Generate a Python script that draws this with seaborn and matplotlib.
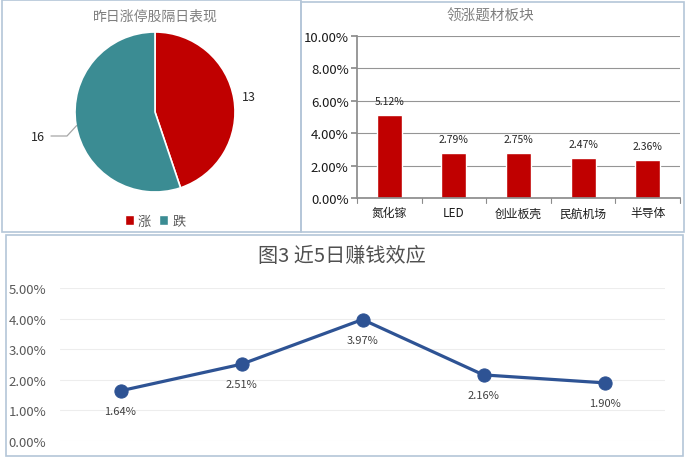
import numpy as np
import pandas as pd
import matplotlib
matplotlib.use("Agg")
import matplotlib.pyplot as plt
from matplotlib.patches import Rectangle, Patch
from matplotlib.ticker import FuncFormatter, MultipleLocator
import seaborn as sns

# ---- data ----
pie_labels = ["涨", "跌"]
pie_values = [13, 16]

bar_cats = ["氮化镓", "LED", "创业板壳", "民航机场", "半导体"]
bar_values = [0.0512, 0.0279, 0.0275, 0.0247, 0.0236]

line_days = [1, 2, 3, 4, 5]
line_values = [0.0164, 0.0251, 0.0397, 0.0216, 0.0190]

pie_title = "昨日涨停股隔日表现"
bar_title = "领涨题材板块"
line_title = "图3 近5日赚钱效应"

RED = "#C00000"
TEAL = "#3B8C93"
BLUE = "#2E5394"
BORDER = "#B4C6D8"

sns.set_theme(style="white")
plt.rcParams['font.family'] = ['Noto Sans CJK SC', 'DejaVu Sans']

W, H = 688, 460
fig = plt.figure(figsize=(W / 100, H / 100), dpi=100)
fig.patch.set_facecolor("white")

def rect(x0, y0, x1, y1):
    return [x0 / W, 1 - y1 / H, (x1 - x0) / W, (y1 - y0) / H]

# panel borders
for (x0, y0, x1, y1) in [(2, 1, 301, 233), (301, 3, 684, 233), (6, 236, 683, 457)]:
    fig.patches.append(Rectangle((x0 / W, 1 - y1 / H), (x1 - x0) / W, (y1 - y0) / H,
                                 transform=fig.transFigure, fill=False,
                                 edgecolor=BORDER, linewidth=1.2))

# ---- pie ----
axp = fig.add_axes(rect(75, 33, 235, 193))
wedges, _ = axp.pie(pie_values, colors=[RED, TEAL], startangle=90, counterclock=False,
                    wedgeprops=dict(edgecolor="white", linewidth=1.2))
axp.set_xlim(-1, 1)
axp.set_ylim(-1, 1)
axp.set_aspect("auto")
axp.text(1.18, 0.19, str(pie_values[0]), ha="center", va="center", fontsize=9, color="#262626")
axp.text(-1.46, -0.31, str(pie_values[1]), ha="center", va="center", fontsize=9, color="#262626")
axp.plot([-1.3, -1.1, -0.98], [-0.30, -0.30, -0.17], color="#A6A6A6", lw=0.9, clip_on=False)
fig.text(155 / W, 1 - 17 / H, pie_title, ha="center", va="center", fontsize=10, color="#7F7F7F")
handles = [Patch(facecolor=RED, label=pie_labels[0]), Patch(facecolor=TEAL, label=pie_labels[1])]
fig.legend(handles=handles, loc="center", bbox_to_anchor=(155 / W, 1 - 222 / H), ncol=2,
           frameon=False, fontsize=9.5, handlelength=0.7, handleheight=0.7, handletextpad=0.3,
           columnspacing=0.6, labelcolor="#595959")

# ---- bar ----
axb = fig.add_axes(rect(357, 37, 680, 199))
df_bar = pd.DataFrame({"cat": bar_cats, "val": bar_values})
sns.barplot(data=df_bar, x="cat", y="val", ax=axb, color=RED, saturation=1, width=0.39)
axb.set_ylim(0, 0.10)
axb.yaxis.set_major_locator(MultipleLocator(0.02))
axb.yaxis.set_major_formatter(FuncFormatter(lambda v, p: f"{v*100:.2f}%"))
axb.grid(axis="y", color="#959595", linewidth=0.8)
axb.set_axisbelow(True)
axb.set_xlabel("")
axb.set_ylabel("")
axb.set_xlim(-0.5, 4.5)
for s in ["top", "right"]:
    axb.spines[s].set_visible(False)
axb.spines["left"].set_color("#8C8C8C")
axb.spines["bottom"].set_color("#8C8C8C")
axb.tick_params(axis="y", labelsize=9.5, labelcolor="#1A1A1A", length=4, color="#8C8C8C",
                left=True, direction="out", pad=2)
axb.tick_params(axis="x", labelsize=8.5, labelcolor="#1A1A1A", length=0, pad=6)
for i, v in enumerate(bar_values):
    axb.annotate(f"{v*100:.2f}%", (i, v), xytext=(0, 14), textcoords="offset pixels",
                 ha="center", va="center", fontsize=7.5, color="#262626")
# category separator ticks
for xb in np.arange(-0.5, 5.0, 1.0):
    axb.plot([xb, xb], [0, -0.003], color="#8C8C8C", lw=0.8, clip_on=False)
fig.text(490 / W, 1 - 17 / H, bar_title, ha="center", va="center", fontsize=10.5, color="#7F7F7F")

# ---- line ----
axl = fig.add_axes(rect(60, 289, 665, 442))
df_line = pd.DataFrame({"day": np.arange(len(line_days)), "val": line_values})
sns.lineplot(data=df_line, x="day", y="val", ax=axl, color=BLUE, linewidth=2.3,
             marker="o", markersize=9.5, markeredgecolor=BLUE, clip_on=False)
axl.set_xlim(-0.5, 4.5)
axl.set_ylim(0, 0.05)
axl.yaxis.set_major_locator(MultipleLocator(0.01))
axl.yaxis.set_major_formatter(FuncFormatter(lambda v, p: f"{v*100:.2f}%"))
axl.grid(axis="y", color="#EDEDED", linewidth=0.8)
axl.set_axisbelow(True)
axl.set_xticks([])
axl.set_xlabel("")
axl.set_ylabel("")
for s in axl.spines.values():
    s.set_visible(False)
axl.tick_params(axis="y", labelsize=9.5, labelcolor="#595959", length=0, pad=10)
for i, v in enumerate(line_values):
    axl.annotate(f"{v*100:.2f}%", (i, v), xytext=(0, -20), textcoords="offset pixels",
                 ha="center", va="center", fontsize=8, color="#404040")
fig.text(342 / W, 1 - 257 / H, line_title, ha="center", va="center", fontsize=14.5, color="#505050")

fig.savefig("out.png", dpi=100)
